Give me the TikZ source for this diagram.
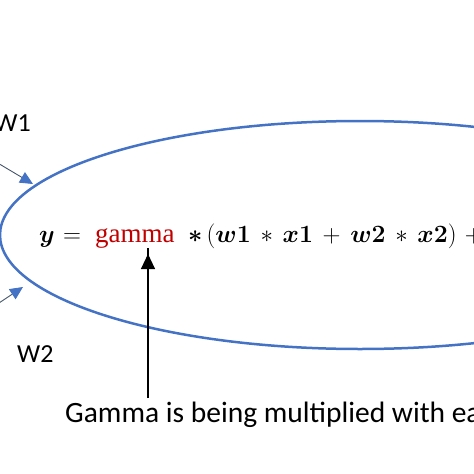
\documentclass[tikz,border=0pt]{standalone}
\usepackage{fontspec}
\usepackage{amsmath}
\usepackage{bm}
\usetikzlibrary{arrows.meta}
\newfontfamily\notefont{Carlito}
\newfontfamily\gammafont{Liberation Serif}
\definecolor{ellblue}{HTML}{4472C4}
\definecolor{gammared}{HTML}{C00000}
\definecolor{wline}{HTML}{44546A}
\newcommand{\wideops}{\medmuskip=7mu\relax\thickmuskip=6mu\relax}

\begin{document}
\begin{tikzpicture}[x=1pt, y=-1pt,
    warrow/.style={draw=wline, line width=0.9pt, -{Triangle[length=13pt, width=12pt, color=ellblue]}},
    eqpart/.style={anchor=base west, inner sep=0pt, font=\fontsize{29}{32}\selectfont}]
            \useasboundingbox (0,0) rectangle (474,474);
            % the ellipse round the equation
            \draw[color=ellblue, line width=2.5pt] (360,235) ellipse [x radius=360, y radius=114];
            % equation
            \node[eqpart] (lhs) at (39,242) {$\wideops\bm{y} =$};
            \node[eqpart, text=gammared, font=\gammafont\fontsize{27}{30}\selectfont] (gamma) at (95,242) {gamma};
            \node[eqpart] (rhs) at (188,242) {$\wideops\bm{\ast}\,(\bm{w1} \ast \bm{x1} + \bm{w2} \ast \bm{x2})\;+$};
            % inputs
            \node[anchor=base east, inner sep=0pt, font=\notefont\fontsize{26}{30}\selectfont] (w1) at (31,131) {W1};
            \node[anchor=base west, inner sep=0pt, font=\notefont\fontsize{26}{30}\selectfont] (w2) at (17,362) {W2};
            \coordinate (w1from) at (-4,162);
            \coordinate (w1to) at (33,184);
            \coordinate (w2from) at (-4,305);
            \coordinate (w2to) at (23,287);
            \draw[warrow] (w1from) -- (w1to);
            \draw[warrow] (w2from) -- (w2to);
            % note
            \node[anchor=base west, inner sep=0pt, font=\notefont\fontsize{29.5}{33}\selectfont] (note) at (65,422) {Gamma is being multiplied with ea};
            \coordinate (foot) at (148,398);
            \draw[line width=1.1pt, -{Triangle[length=15pt, width=14pt]}] (foot) -- (foot |- gamma.south) ++(0,6);
        \end{tikzpicture}
\end{document}
